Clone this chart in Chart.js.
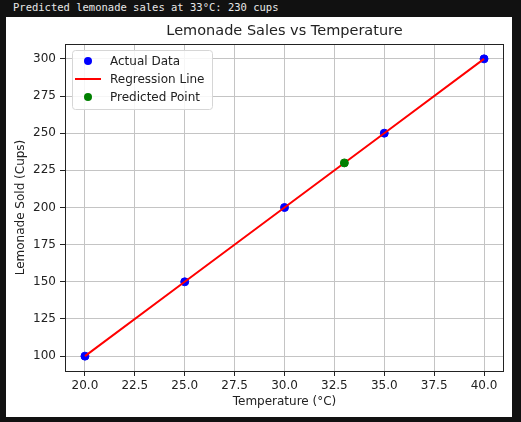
<!DOCTYPE html>
<html>
<head>
<meta charset="utf-8">
<script src="https://cdn.jsdelivr.net/npm/chart.js@4"></script>
<style>
  html, body { margin: 0; padding: 0; background: #111111; }
  body { width: 521px; height: 422px; position: relative; overflow: hidden; }
  #msg { position: absolute; left: 13px; top: 1px; color: #e8e8e8;
         font: 10.5px "DejaVu Sans Mono", monospace; white-space: pre; }
  #wrap { position: absolute; left: 6px; top: 17px; width: 506px; height: 400px; background: #fff; }
</style>
</head>
<body>
<div id="msg">Predicted lemonade sales at 33°C: 230 cups</div>
<div id="wrap"><canvas id="chart" width="506" height="400"></canvas></div>
<script>
// data
var temperatures = [20, 25, 30, 35, 40];
var lemonadeSold = [100, 150, 200, 250, 300];
var regressionLine = [100, 150, 200, 250, 300];
var predictedTemp = [33];
var predictedSales = [230];
var xTicks = [20, 22.5, 25, 27.5, 30, 32.5, 35, 37.5, 40];
var yTicks = [100, 125, 150, 175, 200, 225, 250, 275, 300];

var chartTitle = 'Lemonade Sales vs Temperature';
var FONT = 'DejaVu Sans';

function toPoints(xs, ys) {
    return xs.map(function (x, i) { return {x: x, y: ys[i]}; });
}

// spines, title and legend drawn the matplotlib way
var frame = {
    id: 'frame',
    afterDatasetsDraw: function (chart) {
        var ctx = chart.ctx, a = chart.chartArea;
        ctx.save();
        ctx.strokeStyle = '#222';
        ctx.lineWidth = 1;
        ctx.strokeRect(Math.round(a.left) + 0.5, Math.round(a.top) + 0.5,
            Math.round(a.right - a.left) - 1, Math.round(a.bottom - a.top));

        ctx.fillStyle = '#222';
        ctx.font = '14.5px "' + FONT + '"';
        ctx.textAlign = 'center';
        ctx.textBaseline = 'middle';
        ctx.fillText(chartTitle, (a.left + a.right) / 2, 14);

        // legend box
        var bx = a.left + 7, by = a.top + 6, bw = 140, bh = 59;
        ctx.fillStyle = 'rgba(255,255,255,0.85)';
        ctx.strokeStyle = '#d6d6d6';
        ctx.beginPath();
        ctx.roundRect(bx + 0.5, by + 0.5, bw, bh, 3);
        ctx.fill();
        ctx.stroke();

        ctx.font = '12px "' + FONT + '"';
        ctx.textAlign = 'left';
        var rows = [0, 1, 2];
        rows.forEach(function (i) {
            var ds = chart.data.datasets[i];
            var cy = by + 11 + i * 18;
            if (ds.showLine) {
                ctx.strokeStyle = ds.borderColor;
                ctx.lineWidth = 2;
                ctx.beginPath();
                ctx.moveTo(bx + 3, cy);
                ctx.lineTo(bx + 29, cy);
                ctx.stroke();
            } else {
                ctx.fillStyle = ds.backgroundColor;
                ctx.beginPath();
                ctx.arc(bx + 16, cy, 4, 0, Math.PI * 2);
                ctx.fill();
            }
            ctx.fillStyle = '#222';
            ctx.fillText(ds.label, bx + 38, cy + 1);
        });
        ctx.restore();
    }
};

new Chart(document.getElementById('chart'), {
    type: 'scatter',
    data: {
        datasets: [
            {
                label: 'Actual Data',
                data: toPoints(temperatures, lemonadeSold),
                backgroundColor: '#0000ff',
                borderColor: '#0000ff',
                pointRadius: 4,
                order: 3
            },
            {
                label: 'Regression Line',
                data: toPoints(temperatures, regressionLine),
                showLine: true,
                borderColor: '#ff0000',
                backgroundColor: '#ff0000',
                borderWidth: 2,
                pointRadius: 0,
                order: 2
            },
            {
                label: 'Predicted Point',
                data: toPoints(predictedTemp, predictedSales),
                backgroundColor: '#008000',
                borderColor: '#008000',
                pointRadius: 4,
                order: 1
            }
        ]
    },
    options: {
        responsive: false,
        animation: false,
        events: [],
        layout: {padding: {top: 27, right: 8, left: 0, bottom: 0}},
        plugins: {
            legend: {display: false},
            tooltip: {enabled: false},
            title: {display: false}
        },
        scales: {
            x: {
                type: 'linear',
                min: 19,
                max: 41,
                afterBuildTicks: function (s) { s.ticks = xTicks.map(function (v) { return {value: v}; }); },
                afterFit: function (s) { s.height = 46; },
                ticks: {
                    color: '#222',
                    font: {family: FONT, size: 12},
                    padding: 3,
                    maxRotation: 0,
                    callback: function (v) { return v.toFixed(1); }
                },
                grid: {color: '#c4c4c4', lineWidth: 1, tickLength: 5, tickColor: '#222'},
                border: {display: false},
                title: {
                    display: true,
                    text: 'Temperature (°C)',
                    color: '#222',
                    font: {family: FONT, size: 12},
                    padding: {top: 0, bottom: 8}
                }
            },
            y: {
                type: 'linear',
                min: 90,
                max: 310,
                afterBuildTicks: function (s) { s.ticks = yTicks.map(function (v) { return {value: v}; }); },
                afterFit: function (s) { s.width = 59; },
                ticks: {
                    color: '#222',
                    font: {family: FONT, size: 12},
                    padding: 4,
                    callback: function (v) { return String(v); }
                },
                grid: {color: '#c4c4c4', lineWidth: 1, tickLength: 5, tickColor: '#222'},
                border: {display: false},
                title: {
                    display: true,
                    text: 'Lemonade Sold (Cups)',
                    color: '#222',
                    font: {family: FONT, size: 12},
                    padding: {top: 8, bottom: 0}
                }
            }
        }
    },
    plugins: [frame]
});
</script>
</body>
</html>
